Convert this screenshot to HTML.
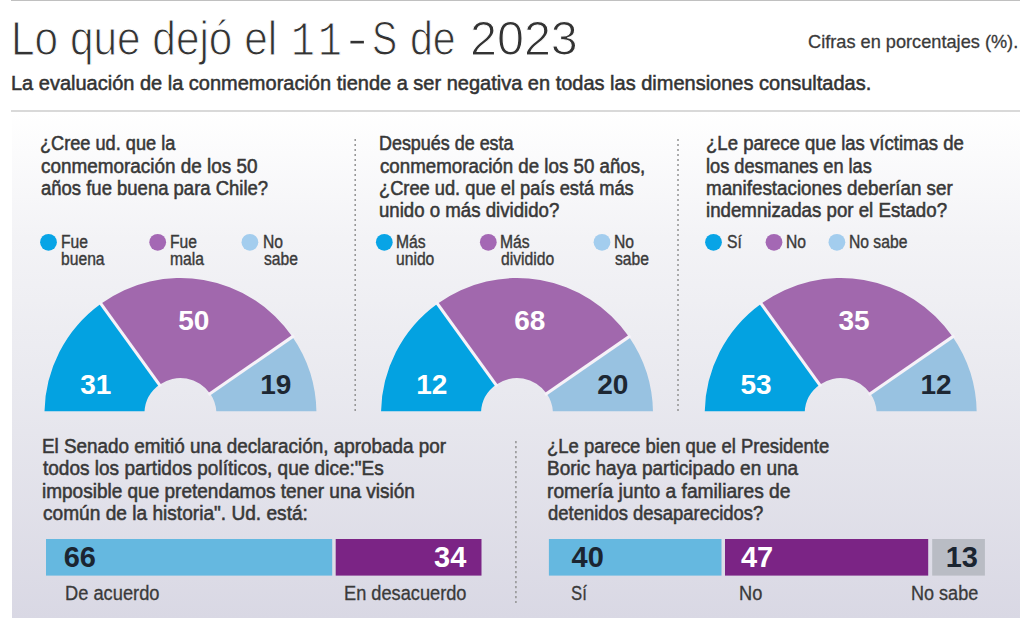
<!DOCTYPE html>
<html><head><meta charset="utf-8"><style>
html,body{margin:0;padding:0;background:#fff;}
body{width:1025px;height:623px;position:relative;overflow:hidden;font-family:"Liberation Sans",sans-serif;}
.topline{position:absolute;left:11px;top:0;width:1009px;height:1.3px;background:#c0c0c0;}
.sep{position:absolute;left:11px;top:109.5px;width:1009px;height:2px;background:#d9d9d9;}
.panel{position:absolute;left:11.5px;top:111.5px;width:1008.5px;height:506.5px;background:linear-gradient(#ffffff 0%,#f3f3f6 25%,#e9e9ef 55%,#d9d8e4 100%);}
.g{position:absolute;left:0;top:0;}
.t{position:absolute;white-space:pre;transform-origin:0 0;}
</style></head><body>
<div class="topline"></div>
<div class="sep"></div>
<div class="panel"></div>
<svg class="g" width="1025" height="623" viewBox="0 0 1025 623"><defs><clipPath id="cb"><rect x="0" y="0" width="1025" height="411.2"/></clipPath></defs><g clip-path="url(#cb)"><path d="M44.45,414.00 A136.0,136.0 0 0 1 100.90,303.70 L159.39,384.80 A36.0,36.0 0 0 0 144.45,414.00 Z" fill="#03a2e1"/><path d="M100.90,303.70 A136.0,136.0 0 0 1 292.40,336.77 L210.08,393.56 A36.0,36.0 0 0 0 159.39,384.80 Z" fill="#a168ad"/><path d="M292.40,336.77 A136.0,136.0 0 0 1 316.45,414.00 L216.45,414.00 A36.0,36.0 0 0 0 210.08,393.56 Z" fill="#98c2e1"/><line x1="160.56" y1="386.42" x2="99.73" y2="302.07" stroke="#f6f2f8" stroke-width="3.1"/><line x1="208.44" y1="394.69" x2="294.04" y2="335.64" stroke="#f6f2f8" stroke-width="3.1"/><path d="M381.00,414.00 A136.0,136.0 0 0 1 437.45,303.70 L495.94,384.80 A36.0,36.0 0 0 0 481.00,414.00 Z" fill="#03a2e1"/><path d="M437.45,303.70 A136.0,136.0 0 0 1 628.95,336.77 L546.63,393.56 A36.0,36.0 0 0 0 495.94,384.80 Z" fill="#a168ad"/><path d="M628.95,336.77 A136.0,136.0 0 0 1 653.00,414.00 L553.00,414.00 A36.0,36.0 0 0 0 546.63,393.56 Z" fill="#98c2e1"/><line x1="497.11" y1="386.42" x2="436.28" y2="302.07" stroke="#f6f2f8" stroke-width="3.1"/><line x1="544.99" y1="394.69" x2="630.59" y2="335.64" stroke="#f6f2f8" stroke-width="3.1"/><path d="M704.70,414.00 A136.0,136.0 0 0 1 761.15,303.70 L819.64,384.80 A36.0,36.0 0 0 0 804.70,414.00 Z" fill="#03a2e1"/><path d="M761.15,303.70 A136.0,136.0 0 0 1 952.65,336.77 L870.33,393.56 A36.0,36.0 0 0 0 819.64,384.80 Z" fill="#a168ad"/><path d="M952.65,336.77 A136.0,136.0 0 0 1 976.70,414.00 L876.70,414.00 A36.0,36.0 0 0 0 870.33,393.56 Z" fill="#98c2e1"/><line x1="820.81" y1="386.42" x2="759.98" y2="302.07" stroke="#f6f2f8" stroke-width="3.1"/><line x1="868.69" y1="394.69" x2="954.29" y2="335.64" stroke="#f6f2f8" stroke-width="3.1"/></g><circle cx="48.5" cy="242.3" r="8.4" fill="#08a4e6"/><circle cx="157.7" cy="242.3" r="8.4" fill="#a468b4"/><circle cx="249.9" cy="242.3" r="8.4" fill="#a3cdee"/><circle cx="384.3" cy="242.3" r="8.4" fill="#08a4e6"/><circle cx="488.3" cy="242.3" r="8.4" fill="#a468b4"/><circle cx="602.0" cy="242.3" r="8.4" fill="#a3cdee"/><circle cx="713.5" cy="242.3" r="8.4" fill="#08a4e6"/><circle cx="774.0" cy="242.3" r="8.4" fill="#a468b4"/><circle cx="836.9" cy="242.3" r="8.4" fill="#a3cdee"/><rect x="46" y="539" width="286.2" height="36.6" fill="#65b8e0"/><rect x="335.7" y="539" width="145.8" height="36.6" fill="#7b2485"/><rect x="548.9" y="539" width="172.6" height="36.6" fill="#65b8e0"/><rect x="725" y="539" width="203.2" height="36.6" fill="#7b2485"/><rect x="932.2" y="539" width="52.7" height="36.6" fill="#b9bcc4"/><line x1="355.2" y1="138.9" x2="355.2" y2="411" stroke="#939393" stroke-width="1.5" stroke-dasharray="2.2 2.8"/><line x1="678.0" y1="138.9" x2="678.0" y2="411" stroke="#939393" stroke-width="1.5" stroke-dasharray="2.2 2.8"/><line x1="515.9" y1="441.0" x2="515.9" y2="603" stroke="#939393" stroke-width="1.5" stroke-dasharray="2.2 2.8"/></svg>
<div class="t" style="left:10.94px;top:9.21px;font-family:'Liberation Sans',sans-serif;font-size:49px;line-height:58.8px;font-weight:400;color:#333333;transform:scaleX(0.8645);-webkit-text-stroke:1.1px #ffffff">Lo que dejó el</div>
<div class="t" style="left:290.76px;top:13.16px;font-family:'Liberation Mono',sans-serif;font-size:49px;line-height:58.8px;font-weight:400;color:#333333;transform:scaleX(0.8120);-webkit-text-stroke:1.1px #ffffff">1</div>
<div class="t" style="left:318.26px;top:13.16px;font-family:'Liberation Mono',sans-serif;font-size:49px;line-height:58.8px;font-weight:400;color:#333333;transform:scaleX(0.8120);-webkit-text-stroke:1.1px #ffffff">1</div>
<div class="t" style="left:346.71px;top:9.21px;font-family:'Liberation Sans',sans-serif;font-size:49px;line-height:58.8px;font-weight:400;color:#333333;transform:scaleX(1.2462);-webkit-text-stroke:1.1px #ffffff">-</div>
<div class="t" style="left:372.26px;top:9.21px;font-family:'Liberation Sans',sans-serif;font-size:49px;line-height:58.8px;font-weight:400;color:#333333;transform:scaleX(0.7690);-webkit-text-stroke:1.1px #ffffff">S</div>
<div class="t" style="left:410.32px;top:9.21px;font-family:'Liberation Sans',sans-serif;font-size:49px;line-height:58.8px;font-weight:400;color:#333333;transform:scaleX(0.8390);-webkit-text-stroke:1.1px #ffffff">de</div>
<div class="t" style="left:469.72px;top:9.21px;font-family:'Liberation Sans',sans-serif;font-size:49px;line-height:58.8px;font-weight:400;color:#333333;transform:scaleX(0.9891);-webkit-text-stroke:1.1px #ffffff">2023</div>
<div class="t" style="left:808.30px;top:30.61px;font-family:'Liberation Sans',sans-serif;font-size:19px;line-height:22.8px;font-weight:400;color:#3a3a3a;transform:scaleX(0.9571);-webkit-text-stroke:0.3px #3a3a3a">Cifras en porcentajes (%).</div>
<div class="t" style="left:11.45px;top:70.12px;font-family:'Liberation Sans',sans-serif;font-size:21px;line-height:25.2px;font-weight:400;color:#333;transform:scaleX(0.9521);-webkit-text-stroke:0.55px #333">La evaluación de la conmemoración tiende a ser negativa en todas las dimensiones consultadas.</div>
<div class="t" style="left:40.49px;top:131.37px;font-family:'Liberation Sans',sans-serif;font-size:20px;line-height:24.0px;font-weight:400;color:#383838;transform:scaleX(0.9083);-webkit-text-stroke:0.55px #383838">¿Cree ud. que la</div>
<div class="t" style="left:41.40px;top:153.77px;font-family:'Liberation Sans',sans-serif;font-size:20px;line-height:24.0px;font-weight:400;color:#383838;transform:scaleX(0.9454);-webkit-text-stroke:0.55px #383838">conmemoración de los 50</div>
<div class="t" style="left:41.40px;top:176.07px;font-family:'Liberation Sans',sans-serif;font-size:20px;line-height:24.0px;font-weight:400;color:#383838;transform:scaleX(0.9242);-webkit-text-stroke:0.55px #383838">años fue buena para Chile?</div>
<div class="t" style="left:378.70px;top:131.37px;font-family:'Liberation Sans',sans-serif;font-size:20px;line-height:24.0px;font-weight:400;color:#383838;transform:scaleX(0.8962);-webkit-text-stroke:0.55px #383838">Después de esta</div>
<div class="t" style="left:379.60px;top:153.77px;font-family:'Liberation Sans',sans-serif;font-size:20px;line-height:24.0px;font-weight:400;color:#383838;transform:scaleX(0.9357);-webkit-text-stroke:0.55px #383838">conmemoración de los 50 años,</div>
<div class="t" style="left:378.69px;top:176.07px;font-family:'Liberation Sans',sans-serif;font-size:20px;line-height:24.0px;font-weight:400;color:#383838;transform:scaleX(0.9128);-webkit-text-stroke:0.55px #383838">¿Cree ud. que el país está más</div>
<div class="t" style="left:378.67px;top:198.37px;font-family:'Liberation Sans',sans-serif;font-size:20px;line-height:24.0px;font-weight:400;color:#383838;transform:scaleX(0.9317);-webkit-text-stroke:0.55px #383838">unido o más dividido?</div>
<div class="t" style="left:705.67px;top:131.37px;font-family:'Liberation Sans',sans-serif;font-size:20px;line-height:24.0px;font-weight:400;color:#383838;transform:scaleX(0.9278);-webkit-text-stroke:0.55px #383838">¿Le parece que las víctimas de</div>
<div class="t" style="left:705.69px;top:153.77px;font-family:'Liberation Sans',sans-serif;font-size:20px;line-height:24.0px;font-weight:400;color:#383838;transform:scaleX(0.9094);-webkit-text-stroke:0.55px #383838">los desmanes en las</div>
<div class="t" style="left:705.66px;top:176.07px;font-family:'Liberation Sans',sans-serif;font-size:20px;line-height:24.0px;font-weight:400;color:#383838;transform:scaleX(0.9403);-webkit-text-stroke:0.55px #383838">manifestaciones deberían ser</div>
<div class="t" style="left:705.67px;top:198.37px;font-family:'Liberation Sans',sans-serif;font-size:20px;line-height:24.0px;font-weight:400;color:#383838;transform:scaleX(0.9345);-webkit-text-stroke:0.55px #383838">indemnizadas por el Estado?</div>
<div class="t" style="left:60.60px;top:231.93px;font-family:'Liberation Sans',sans-serif;font-size:17.5px;line-height:21.0px;font-weight:400;color:#3a3a3a;transform:scaleX(0.8950);-webkit-text-stroke:0.4px #3a3a3a">Fue</div>
<div class="t" style="left:60.60px;top:248.83px;font-family:'Liberation Sans',sans-serif;font-size:17.5px;line-height:21.0px;font-weight:400;color:#3a3a3a;transform:scaleX(0.8950);-webkit-text-stroke:0.4px #3a3a3a">buena</div>
<div class="t" style="left:170.10px;top:231.93px;font-family:'Liberation Sans',sans-serif;font-size:17.5px;line-height:21.0px;font-weight:400;color:#3a3a3a;transform:scaleX(0.8950);-webkit-text-stroke:0.4px #3a3a3a">Fue</div>
<div class="t" style="left:170.10px;top:248.83px;font-family:'Liberation Sans',sans-serif;font-size:17.5px;line-height:21.0px;font-weight:400;color:#3a3a3a;transform:scaleX(0.8950);-webkit-text-stroke:0.4px #3a3a3a">mala</div>
<div class="t" style="left:262.61px;top:231.93px;font-family:'Liberation Sans',sans-serif;font-size:17.5px;line-height:21.0px;font-weight:400;color:#3a3a3a;transform:scaleX(0.8950);-webkit-text-stroke:0.4px #3a3a3a">No</div>
<div class="t" style="left:263.50px;top:248.83px;font-family:'Liberation Sans',sans-serif;font-size:17.5px;line-height:21.0px;font-weight:400;color:#3a3a3a;transform:scaleX(0.8950);-webkit-text-stroke:0.4px #3a3a3a">sabe</div>
<div class="t" style="left:396.31px;top:231.93px;font-family:'Liberation Sans',sans-serif;font-size:17.5px;line-height:21.0px;font-weight:400;color:#3a3a3a;transform:scaleX(0.8950);-webkit-text-stroke:0.4px #3a3a3a">Más</div>
<div class="t" style="left:396.31px;top:248.83px;font-family:'Liberation Sans',sans-serif;font-size:17.5px;line-height:21.0px;font-weight:400;color:#3a3a3a;transform:scaleX(0.8950);-webkit-text-stroke:0.4px #3a3a3a">unido</div>
<div class="t" style="left:500.11px;top:231.93px;font-family:'Liberation Sans',sans-serif;font-size:17.5px;line-height:21.0px;font-weight:400;color:#3a3a3a;transform:scaleX(0.8950);-webkit-text-stroke:0.4px #3a3a3a">Más</div>
<div class="t" style="left:501.00px;top:248.83px;font-family:'Liberation Sans',sans-serif;font-size:17.5px;line-height:21.0px;font-weight:400;color:#3a3a3a;transform:scaleX(0.8950);-webkit-text-stroke:0.4px #3a3a3a">dividido</div>
<div class="t" style="left:613.71px;top:231.93px;font-family:'Liberation Sans',sans-serif;font-size:17.5px;line-height:21.0px;font-weight:400;color:#3a3a3a;transform:scaleX(0.8950);-webkit-text-stroke:0.4px #3a3a3a">No</div>
<div class="t" style="left:614.60px;top:248.83px;font-family:'Liberation Sans',sans-serif;font-size:17.5px;line-height:21.0px;font-weight:400;color:#3a3a3a;transform:scaleX(0.8950);-webkit-text-stroke:0.4px #3a3a3a">sabe</div>
<div class="t" style="left:726.70px;top:231.93px;font-family:'Liberation Sans',sans-serif;font-size:17.5px;line-height:21.0px;font-weight:400;color:#3a3a3a;transform:scaleX(0.8950);-webkit-text-stroke:0.4px #3a3a3a">Sí</div>
<div class="t" style="left:786.31px;top:231.93px;font-family:'Liberation Sans',sans-serif;font-size:17.5px;line-height:21.0px;font-weight:400;color:#3a3a3a;transform:scaleX(0.8950);-webkit-text-stroke:0.4px #3a3a3a">No</div>
<div class="t" style="left:849.00px;top:231.93px;font-family:'Liberation Sans',sans-serif;font-size:17.5px;line-height:21.0px;font-weight:400;color:#3a3a3a;transform:scaleX(0.8950);-webkit-text-stroke:0.4px #3a3a3a">No sabe</div>
<div class="t" style="left:80.16px;top:367.69px;font-family:'Liberation Sans',sans-serif;font-size:28px;line-height:33.6px;font-weight:700;color:#ffffff">31</div>
<div class="t" style="left:178.16px;top:303.69px;font-family:'Liberation Sans',sans-serif;font-size:28px;line-height:33.6px;font-weight:700;color:#ffffff">50</div>
<div class="t" style="left:260.16px;top:367.69px;font-family:'Liberation Sans',sans-serif;font-size:28px;line-height:33.6px;font-weight:700;color:#1d2733">19</div>
<div class="t" style="left:416.21px;top:367.69px;font-family:'Liberation Sans',sans-serif;font-size:28px;line-height:33.6px;font-weight:700;color:#ffffff">12</div>
<div class="t" style="left:514.21px;top:303.69px;font-family:'Liberation Sans',sans-serif;font-size:28px;line-height:33.6px;font-weight:700;color:#ffffff">68</div>
<div class="t" style="left:597.21px;top:367.69px;font-family:'Liberation Sans',sans-serif;font-size:28px;line-height:33.6px;font-weight:700;color:#1d2733">20</div>
<div class="t" style="left:740.41px;top:367.69px;font-family:'Liberation Sans',sans-serif;font-size:28px;line-height:33.6px;font-weight:700;color:#ffffff">53</div>
<div class="t" style="left:838.41px;top:303.69px;font-family:'Liberation Sans',sans-serif;font-size:28px;line-height:33.6px;font-weight:700;color:#ffffff">35</div>
<div class="t" style="left:920.41px;top:367.69px;font-family:'Liberation Sans',sans-serif;font-size:28px;line-height:33.6px;font-weight:700;color:#1d2733">12</div>
<div class="t" style="left:41.66px;top:433.97px;font-family:'Liberation Sans',sans-serif;font-size:20px;line-height:24.0px;font-weight:400;color:#383838;transform:scaleX(0.9438);-webkit-text-stroke:0.55px #383838">El Senado emitió una declaración, aprobada por</div>
<div class="t" style="left:42.60px;top:455.97px;font-family:'Liberation Sans',sans-serif;font-size:20px;line-height:24.0px;font-weight:400;color:#383838;transform:scaleX(0.9506);-webkit-text-stroke:0.55px #383838">todos los partidos políticos, que dice:"Es</div>
<div class="t" style="left:41.65px;top:478.67px;font-family:'Liberation Sans',sans-serif;font-size:20px;line-height:24.0px;font-weight:400;color:#383838;transform:scaleX(0.9502);-webkit-text-stroke:0.55px #383838">imposible que pretendamos tener una visión</div>
<div class="t" style="left:42.60px;top:500.57px;font-family:'Liberation Sans',sans-serif;font-size:20px;line-height:24.0px;font-weight:400;color:#383838;transform:scaleX(0.9555);-webkit-text-stroke:0.55px #383838">común de la historia". Ud. está:</div>
<div class="t" style="left:547.18px;top:433.97px;font-family:'Liberation Sans',sans-serif;font-size:20px;line-height:24.0px;font-weight:400;color:#383838;transform:scaleX(0.9231);-webkit-text-stroke:0.55px #383838">¿Le parece bien que el Presidente</div>
<div class="t" style="left:547.15px;top:455.97px;font-family:'Liberation Sans',sans-serif;font-size:20px;line-height:24.0px;font-weight:400;color:#383838;transform:scaleX(0.9490);-webkit-text-stroke:0.55px #383838">Boric haya participado en una</div>
<div class="t" style="left:547.14px;top:478.67px;font-family:'Liberation Sans',sans-serif;font-size:20px;line-height:24.0px;font-weight:400;color:#383838;transform:scaleX(0.9607);-webkit-text-stroke:0.55px #383838">romería junto a familiares de</div>
<div class="t" style="left:548.10px;top:500.57px;font-family:'Liberation Sans',sans-serif;font-size:20px;line-height:24.0px;font-weight:400;color:#383838;transform:scaleX(0.9217);-webkit-text-stroke:0.55px #383838">detenidos desaparecidos?</div>
<div class="t" style="left:63.70px;top:540.15px;font-family:'Liberation Sans',sans-serif;font-size:29px;line-height:34.8px;font-weight:700;color:#1b2531">66</div>
<div class="t" style="left:434.07px;top:540.15px;font-family:'Liberation Sans',sans-serif;font-size:29px;line-height:34.8px;font-weight:700;color:#ffffff">34</div>
<div class="t" style="left:571.60px;top:540.15px;font-family:'Liberation Sans',sans-serif;font-size:29px;line-height:34.8px;font-weight:700;color:#1b2531">40</div>
<div class="t" style="left:740.90px;top:540.15px;font-family:'Liberation Sans',sans-serif;font-size:29px;line-height:34.8px;font-weight:700;color:#ffffff">47</div>
<div class="t" style="left:945.67px;top:540.15px;font-family:'Liberation Sans',sans-serif;font-size:29px;line-height:34.8px;font-weight:700;color:#1b2531">13</div>
<div class="t" style="left:64.56px;top:581.54px;font-family:'Liberation Sans',sans-serif;font-size:19.5px;line-height:23.4px;font-weight:400;color:#3a3a3a;transform:scaleX(0.9373);-webkit-text-stroke:0.3px #3a3a3a">De acuerdo</div>
<div class="t" style="left:343.57px;top:581.54px;font-family:'Liberation Sans',sans-serif;font-size:19.5px;line-height:23.4px;font-weight:400;color:#3a3a3a;transform:scaleX(0.9338);-webkit-text-stroke:0.3px #3a3a3a">En desacuerdo</div>
<div class="t" style="left:571.20px;top:581.54px;font-family:'Liberation Sans',sans-serif;font-size:19.5px;line-height:23.4px;font-weight:400;color:#3a3a3a;transform:scaleX(0.8576);-webkit-text-stroke:0.3px #3a3a3a">Sí</div>
<div class="t" style="left:739.37px;top:581.54px;font-family:'Liberation Sans',sans-serif;font-size:19.5px;line-height:23.4px;font-weight:400;color:#3a3a3a;transform:scaleX(0.9343);-webkit-text-stroke:0.3px #3a3a3a">No</div>
<div class="t" style="left:911.37px;top:581.54px;font-family:'Liberation Sans',sans-serif;font-size:19.5px;line-height:23.4px;font-weight:400;color:#3a3a3a;transform:scaleX(0.9253);-webkit-text-stroke:0.3px #3a3a3a">No sabe</div>
</body></html>
